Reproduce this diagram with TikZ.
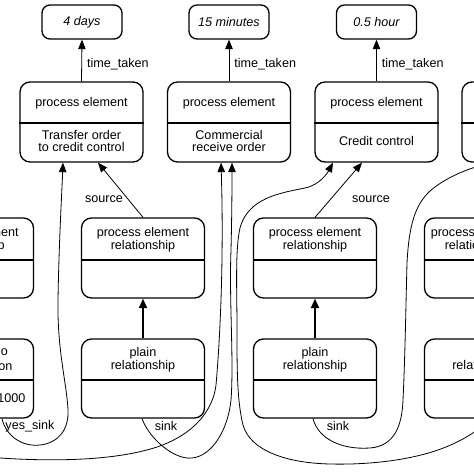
\documentclass[tikz,border=0pt]{standalone}
\usepackage{fontspec}
\setmainfont{Liberation Sans}
\usetikzlibrary{arrows.meta,calc}
\begin{document}
\begin{tikzpicture}[x=1pt,y=-1pt,
  every node/.style={font=\fontsize{12.6}{12.5}\selectfont},
  box/.style={draw, line width=1.3pt, rounded corners=10pt, inner sep=0pt},
  tbox/.style={box, minimum width=80pt, minimum height=34pt, rounded corners=8pt, font=\fontsize{12.6}{12.5}\selectfont\itshape},
  ubox/.style={box, minimum width=123pt, minimum height=80pt},
  rbox/.style={box, minimum width=123pt, minimum height=79pt},
  divl/.style={line width=1.3pt},
  txt/.style={inner sep=0pt, align=center},
  lbl/.style={inner sep=0pt},
  conn/.style={line width=0.8pt, -{Triangle[length=9.5pt,width=7.5pt]}},
  thickconn/.style={line width=2pt, -{Triangle[length=9.5pt,width=8pt]}}
]
\useasboundingbox (0,0) rectangle (474,474);
\clip (0,0) rectangle (474,474);
\fill[white] (0,0) rectangle (474,474);

% time boxes
\node[tbox] (tb1) at (82,22) {4 days};
\node[tbox] (tb2) at (229,22) {15 minutes};
\node[tbox] (tb3) at (376.5,22) {0.5 hour};

% process elements
\foreach \n/\x in {pe1/81.5, pe2/229, pe3/376.5, pe4/523.5} {
  \node[ubox] (\n) at (\x,122) {};
  \draw[divl] (\n.west|-0,123) -- (\n.east|-0,123);
}
\node[txt] (pe1-h) at (81.5,103) {process element};
\node[txt] (pe2-h) at (229,103) {process element};
\node[txt] (pe3-h) at (376.5,103) {process element};
\node[txt] (pe1-b) at (81.5,141) {Transfer order\\to credit control};
\node[txt] (pe2-b) at (229,141) {Commercial\\receive order};
\node[txt] (pe3-b) at (376.5,141) {Credit control};

% process element relationships
\foreach \n/\x/\t in {per0/-28/-27.5, per1/143/143, per2/315/315, per3/486/477} {
  \node[ubox] (\n) at (\x,258) {};
  \draw[divl] (\n.west|-0,260) -- (\n.east|-0,260);
  \node[txt] (\n-h) at (\t,239.5) {process element\\relationship};
}

% relationships
\foreach \n/\x in {rel0/-28, rel1/143, rel2/315, rel3/486} {
  \node[rbox] (\n) at (\x,378.5) {};
  \draw[divl] (\n.west|-0,380) -- (\n.east|-0,380);
}
\node[txt] (rel1-h) at (143,359.5) {plain\\relationship};
\node[txt] (rel2-h) at (315,359.5) {plain\\relationship};
\node[txt] (rel3-h) at (484.5,366) {relationship};
\node[lbl, anchor=east] (rel0-h1) at (8,353) {yes\_no};
\node[lbl, anchor=east] (rel0-h2) at (12.5,366) {decision};
\node[lbl, anchor=east] (rel0-b) at (25.5,398) {£1000};

% time_taken arrows
\draw[conn] (pe1.north) -- (tb1.south) node[lbl, pos=0.42, anchor=west, xshift=5pt] (tt1) {time\_taken};
\draw[conn] (pe2.north) -- (tb2.south) node[lbl, pos=0.42, anchor=west, xshift=5pt] (tt2) {time\_taken};
\draw[conn] (pe3.north) -- (tb3.south) node[lbl, pos=0.42, anchor=west, xshift=5pt] (tt3) {time\_taken};

% source arrows
\draw[conn] (per1.north) -- ([xshift=16.5pt]pe1.south);
\node[lbl] (src1) at (104,199) {source};
\draw[conn] (per2.north) -- ([xshift=-14.5pt]pe3.south);
\node[lbl] (src2) at (371,199) {source};

% thick arrows
\draw[thickconn] (rel1.north) -- (per1.south);
\draw[thickconn] (rel2.north) -- (per2.south);

% curve A: yes_sink
\draw[conn] ([xshift=30pt]rel0.south) .. controls (6,436) and (22,447) .. (40,445)
  .. controls (58,443) and (69,430) .. (68,410)
  .. controls (67,385) and (57,350) .. (58,300)
  .. controls (59,240) and (62,190) .. ([xshift=-18.5pt]pe1.south);
\node[lbl] (ys) at (30,426) {yes\_sink};

% curve B
\draw[conn] ([xshift=-20pt]rel0.south) .. controls (-42,448) and (-25,457) .. (0,458)
  .. controls (60,462) and (120,460) .. (160,446)
  .. controls (195,433) and (213,410) .. (216,385)
  .. controls (220,340) and (224,260) .. ([xshift=-8pt]pe2.south);

% curve C: sink of rel1
\draw[conn] ([xshift=-1pt]rel1.south) .. controls (150,440) and (175,460) .. (192,458)
  .. controls (212,456) and (228,430) .. (231,400)
  .. controls (234,360) and (229,300) .. (231,250)
  .. controls (232,210) and (232,180) .. ([xshift=3pt]pe2.south);
\node[lbl] (sk1) at (166,426) {sink};

% curve D
\draw[conn] ([xshift=4pt]rel3.south) .. controls (484,426) and (470,436) .. (455,443)
  .. controls (420,460) and (370,465) .. (330,464)
  .. controls (285,463) and (250,450) .. (243,425)
  .. controls (237,400) and (237,370) .. (237,330)
  .. controls (237,290) and (235,250) .. (240,228)
  .. controls (248,198) and (280,193) .. (305,188)
  .. controls (320,185) and (328,172) .. ([xshift=-43.5pt]pe3.south);

% curve E: sink of rel2
\draw[conn] ([xshift=-2pt]rel2.south) .. controls (318,438) and (340,450) .. (370,448)
  .. controls (395,446) and (402,425) .. (403,400)
  .. controls (405,360) and (406,300) .. (407,263)
  .. controls (409,225) and (415,205) .. (430,191)
  .. controls (445,178) and (465,170) .. ([xshift=-33.5pt]pe4.south);
\node[lbl] (sk2) at (338,426) {sink};
\end{tikzpicture}
\end{document}
